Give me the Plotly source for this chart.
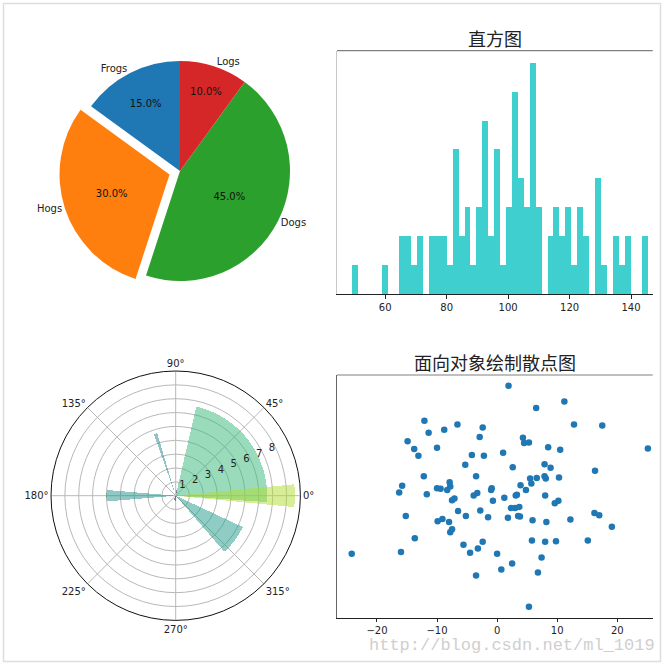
import numpy as np
import plotly.graph_objects as go

# ---------------- data ----------------
pie_labels = ["Frogs", "Hogs", "Dogs", "Logs"]
pie_values = [15, 30, 45, 10]
pie_colors = ["#1f77b4", "#ff7f0e", "#2ca02c", "#d62728"]
pie_pull = [0, 0.1, 0, 0]

hist_start = 49.16
hist_end = 145.64
hist_counts = [1, 0, 0, 0, 0, 1, 0, 0, 2, 2,
               1, 2, 0, 2, 2, 2, 1, 5, 2, 3,
               1, 3, 6, 2, 5, 1, 3, 7, 4, 3,
               8, 3, 0, 2, 3, 2, 3, 1, 3, 2,
               0, 4, 1, 0, 2, 1, 2, 0, 0, 2]
hist_ticks = [60, 80, 100, 120, 140]

polar_theta = [36.5, 0, 108, 180, 323, 82, 262]
polar_width = [81, 11, 3, 9.5, 24, 14, 30]
polar_r = [6.6, 8.6, 4.7, 5.0, 5.35, 0.4, 0.35]
polar_colors = ["rgba(53,183,121,0.5)", "rgba(176,221,47,0.5)", "rgba(37,133,142,0.5)",
                "rgba(33,145,140,0.5)", "rgba(31,154,138,0.5)", "rgba(70,10,95,0.5)",
                "rgba(71,13,96,0.5)"]
polar_ticks = [1, 2, 3, 4, 5, 6, 7, 8]
polar_angles = [0, 45, 90, 135, 180, 225, 270, 315]

scatter_x = [1.9, 11.2, 6.5, -12.1, -6.6, 12.8, 17.5, -2.4, -8.8, -11.4,
             -2.9, 4.3, -14.9, 4.5, 5.3, -10.0, 8.5, -13.8, 10.5, 25.1,
             1.0, -13.1, -4.2, -2.2, -5.3, 2.6, 7.9, 8.9, 16.3, -12.2,
             -3.5, 5.5, 6.6, 7.9, 8.1, 10.3, -15.8, -7.9, -7.8, -10.0,
             -9.4, -8.3, 3.9, 5.7, 4.8, -16.3, -11.7, -0.9, -1.0, -3.3,
             -3.9, -7.5, -7.1, 1.2, 3.1, 3.3, 8.0, -0.7, 10.2, 9.6,
             2.3, 3.0, 3.7, -6.5, -2.8, -15.2, -5.2, -1.5, 1.8, 3.5,
             3.8, 16.2, 17.0, -9.9, -9.1, -8.0, 5.9, 8.2, 12.2, 19.1,
             -7.8, -7.5, -13.7, -2.4, 5.8, 8.0, 9.8, 15.1, -5.6, -3.2,
             -4.5, -16.0, -24.2, 0.0, 2.5, 7.4, 0.7, 6.8, -3.5, 5.3]
scatter_y = [18.4, 15.8, 14.7, 12.6, 12.0, 12.0, 11.8, 11.5, 11.1, 10.6,
             9.9, 9.8, 9.2, 8.9, 9.0, 8.1, 8.2, 7.9, 7.8, 8.0,
             7.3, 6.8, 6.9, 6.8, 5.3, 4.9, 5.4, 4.8, 4.3, 3.4,
             3.4, 3.0, 3.1, 3.4, 3.0, 3.2, 1.8, 2.4, 1.7, 1.4,
             1.3, 1.1, 1.9, 2.2, 1.1, 0.7, 0.4, 1.4, 1.1, 0.6,
             0.2, -0.6, -0.3, -0.2, 0.2, 0.3, 0.2, -0.7, -0.7, -1.1,
             -1.9, -1.9, -1.7, -2.4, -2.3, -3.2, -3.2, -3.4, -3.5, -3.2,
             -3.3, -2.7, -3.1, -4.1, -3.7, -4.2, -3.9, -4.2, -3.8, -5.0,
             -5.9, -5.4, -6.9, -7.5, -7.3, -7.5, -7.4, -7.3, -8.0, -8.6,
             -9.3, -9.2, -9.5, -9.5, -11.1, -10.1, -12.1, -12.6, -13.1, -18.3]
scatter_ticks = [-20, -10, 0, 10, 20]

hist_title = "直方图"
scatter_title = "面向对象绘制散点图"
watermark = "http://blog.csdn.net/ml_1019"

# ---------------- figure ----------------
W = H = 665
TICKFONT = dict(family="DejaVu Sans", size=10, color="#222")

fig = go.Figure()

# plotly starts a counterclockwise pie so the first slice ENDS at `rotation`;
# shift so the first slice starts at 12 o'clock (matplotlib startangle=90)
first_share = pie_values[0] / sum(pie_values) * 360
pie_rotation = -first_share

pie_domain = dict(x=[59 / W, 301 / W], y=[1 - 292 / H, 1 - 50 / H])
fig.add_trace(go.Pie(
    labels=pie_labels, values=pie_values, sort=False, direction="counterclockwise",
    rotation=pie_rotation, pull=pie_pull, marker=dict(colors=pie_colors, line=dict(width=0)),
    textinfo="label", textposition="outside", outsidetextfont=TICKFONT,
    domain=pie_domain, showlegend=False, hoverinfo="label+percent"))
fig.add_trace(go.Pie(
    labels=pie_labels, values=pie_values, sort=False, direction="counterclockwise",
    rotation=pie_rotation, pull=pie_pull,
    marker=dict(colors=["rgba(0,0,0,0)"] * len(pie_values), line=dict(width=0)),
    texttemplate="%{percent:.1%}", textposition="inside", insidetextorientation="horizontal",
    insidetextfont=dict(family="DejaVu Sans", size=10, color="#111"),
    domain=pie_domain, showlegend=False, hoverinfo="skip"))

# histogram
edges = np.linspace(hist_start, hist_end, len(hist_counts) + 1)
centers = (edges[:-1] + edges[1:]) / 2
bw = edges[1] - edges[0]
fig.add_trace(go.Bar(x=centers, y=hist_counts, width=bw, marker=dict(color="#40CFCF", line=dict(width=0)),
                     xaxis="x", yaxis="y", showlegend=False))

# polar bars
fig.add_trace(go.Barpolar(theta=polar_theta, r=polar_r, width=polar_width,
                          marker=dict(color=polar_colors, line=dict(width=0)),
                          subplot="polar", showlegend=False))

# scatter
fig.add_trace(go.Scatter(x=scatter_x, y=scatter_y, mode="markers",
                         marker=dict(color="#1f77b4", size=6.5),
                         xaxis="x2", yaxis="y2", showlegend=False))

hx = [337 / W, 652.7 / W]
hy = [1 - 294 / H, 1 - 50.7 / H]
sx = [337 / W, 652.7 / W]
sy = [1 - 617.7 / H, 1 - 375 / H]

axis_common = dict(showgrid=False, zeroline=False, showline=True, ticks="outside",
                   ticklen=3.5, tickwidth=0.8, tickcolor="#222", tickfont=TICKFONT)
fig.update_layout(
    width=W, height=H, margin=dict(l=0, r=0, t=0, b=0),
    paper_bgcolor="white", plot_bgcolor="white", bargap=0,
    xaxis=dict(domain=hx, range=[44.3, 147.06], tickvals=hist_ticks, linecolor="#222", **axis_common),
    yaxis=dict(domain=hy, range=[0, 8.4], showticklabels=False, showgrid=False, zeroline=False,
               showline=True, linecolor="#c8c8c8", ticks=""),
    xaxis2=dict(domain=sx, range=[-26.65, 25.9], tickvals=scatter_ticks, linecolor="#222",
                anchor="y2", **axis_common),
    yaxis2=dict(domain=sy, range=[-20.1, 20.2], showticklabels=False, showgrid=False, zeroline=False,
                showline=True, linecolor="#666", ticks="", anchor="x2"),
    polar=dict(
        domain=dict(x=[51 / W, 300.4 / W], y=[1 - 620.4 / H, 1 - 371 / H]),
        bgcolor="white",
        radialaxis=dict(range=[0, 9], tickvals=polar_ticks, angle=22.5, tickangle=22.5,
                        side="counterclockwise",
                        showline=False, ticks="", gridcolor="#b8b8b8", gridwidth=0.8,
                        tickfont=TICKFONT),
        angularaxis=dict(tickmode="array", tickvals=polar_angles,
                         ticktext=[f"{a}°" for a in polar_angles],
                         direction="counterclockwise",
                         rotation=0, showline=True, linecolor="#111", linewidth=1,
                         gridcolor="#b8b8b8", gridwidth=0.8, ticks="", tickfont=TICKFONT),
    ),
    annotations=[
        dict(text=hist_title, x=(hx[0] + hx[1]) / 2, y=1 - 38 / H, xref="paper", yref="paper",
             showarrow=False, font=dict(family="Noto Sans CJK SC", size=18, color="#222"),
             xanchor="center", yanchor="middle"),
        dict(text=scatter_title, x=(sx[0] + sx[1]) / 2, y=1 - 362 / H, xref="paper", yref="paper",
             showarrow=False, font=dict(family="Noto Sans CJK SC", size=18, color="#222"),
             xanchor="center", yanchor="middle"),
        dict(text=watermark, x=657 / W, y=1 - 645 / H, xref="paper", yref="paper",
             showarrow=False, font=dict(family="Liberation Mono", size=17, color="#cfcfcf"),
             xanchor="right", yanchor="middle"),
    ],
    shapes=[
        dict(type="line", xref="x domain", yref="y domain", x0=0, x1=1, y0=1, y1=1,
             line=dict(color="#808080", width=1.2)),
        dict(type="line", xref="x2 domain", yref="y2 domain", x0=0, x1=1, y0=1, y1=1,
             line=dict(color="#808080", width=1.2)),
        dict(type="rect", xref="paper", yref="paper", x0=3.5 / W, x1=660.5 / W,
             y0=1 - 661.5 / H, y1=1 - 3.5 / H, line=dict(color="#dedede", width=1.5)),
    ],
)

fig.write_html("out.html", config={"displayModeBar": False},
               post_script="document.body.style.margin='0';document.body.style.overflow='hidden';")
